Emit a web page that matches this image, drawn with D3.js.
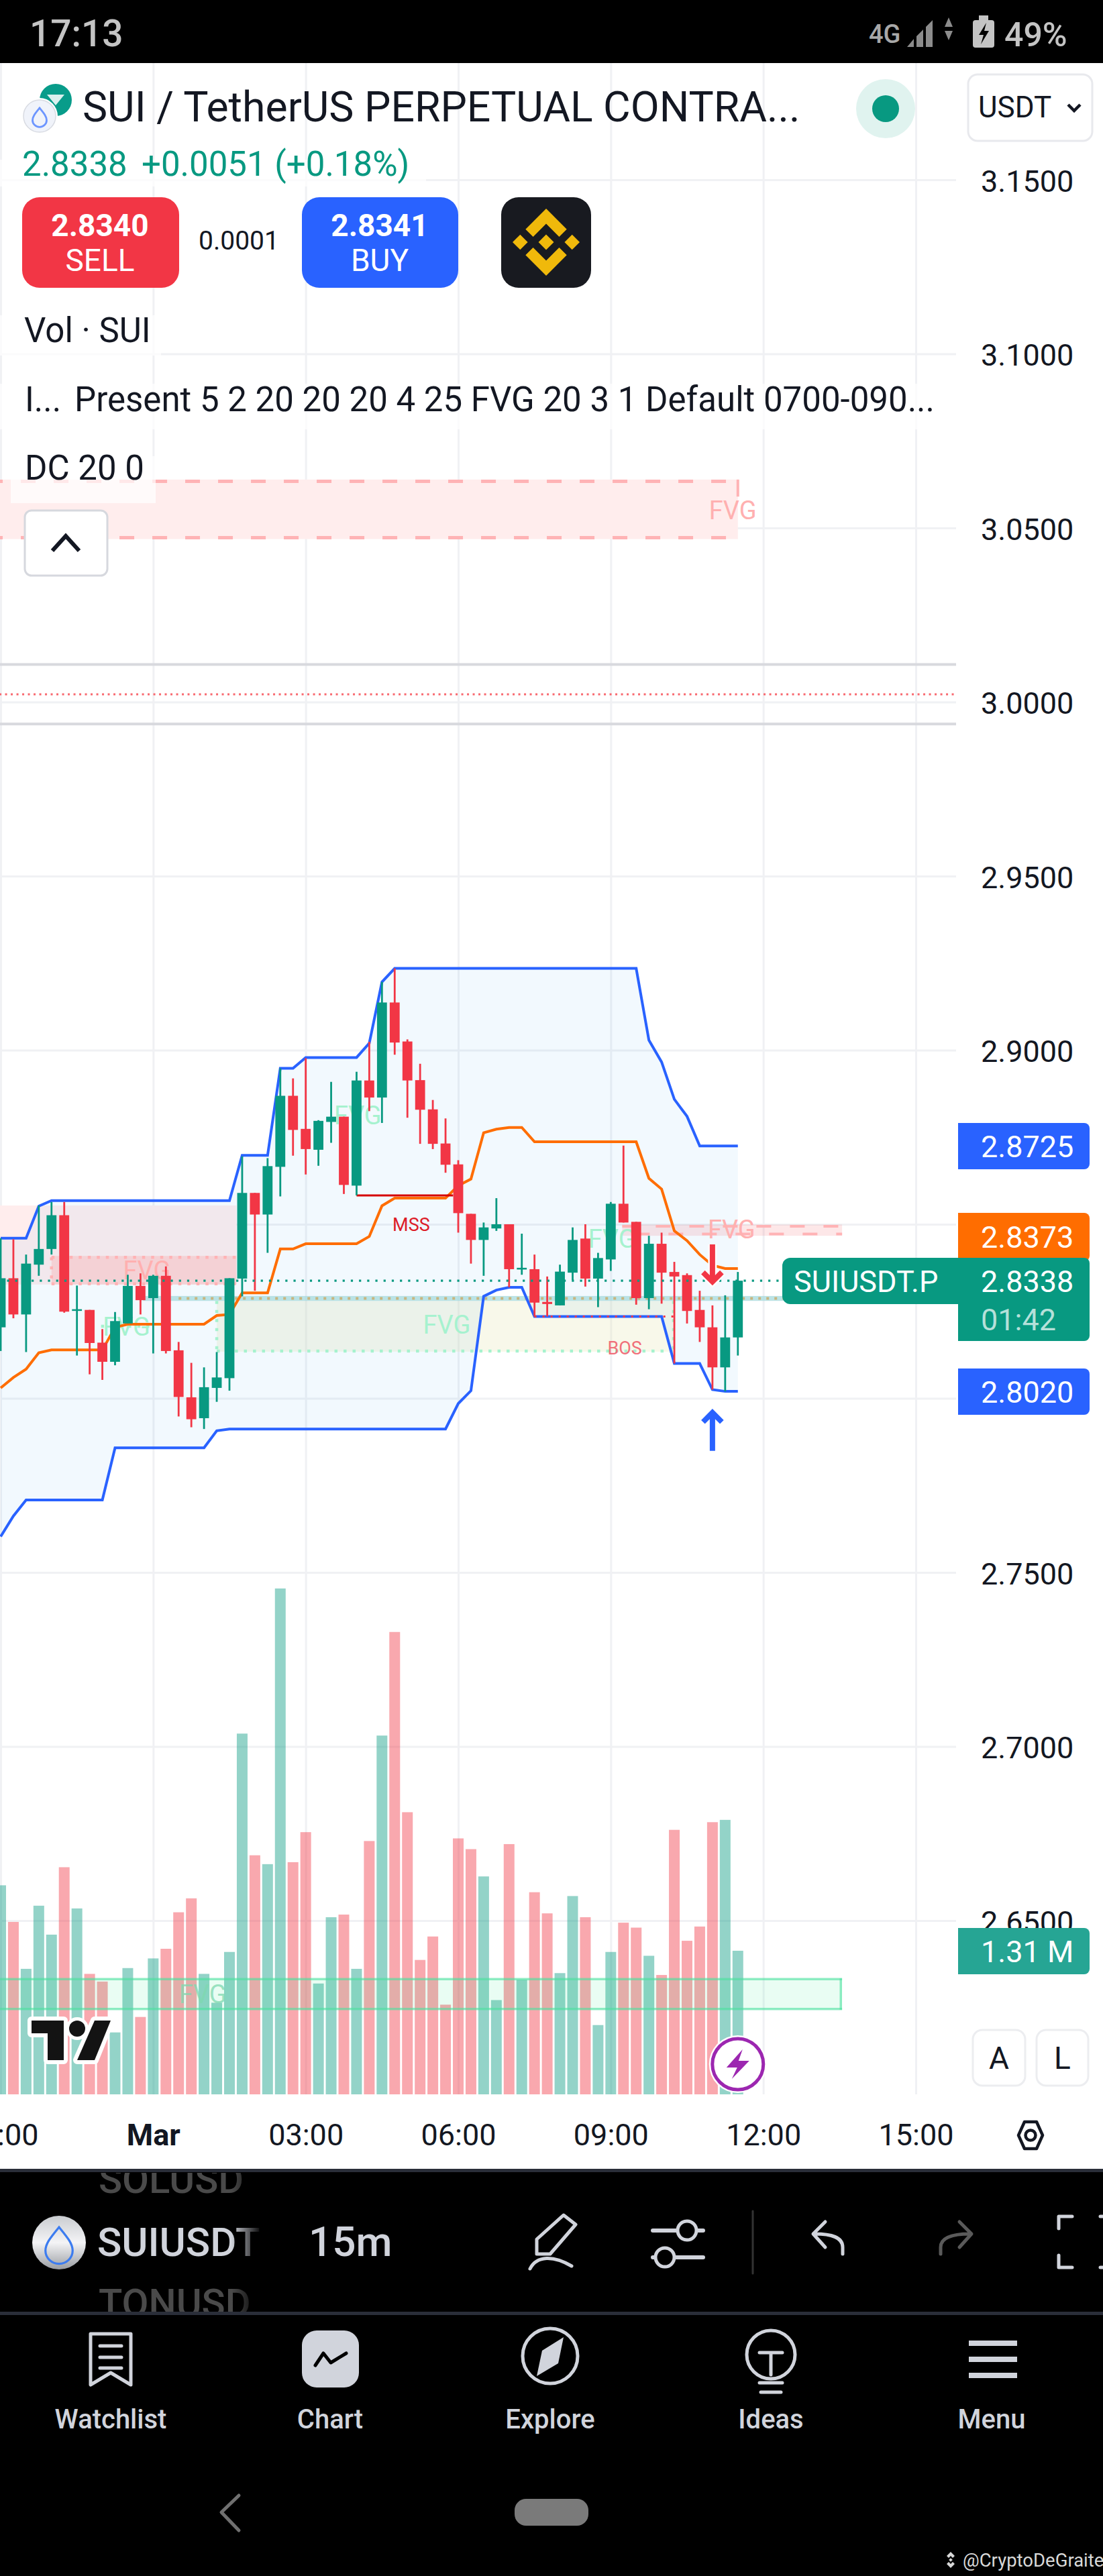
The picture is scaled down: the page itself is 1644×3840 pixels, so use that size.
<!DOCTYPE html>
<html>
<head>
<meta charset="utf-8">
<script src="https://cdn.jsdelivr.net/npm/d3@7"></script>
<style>
html, body { margin: 0; padding: 0; background: #fff; }
svg { display: block; font-family: Roboto, sans-serif; }
</style>
</head>
<body>
<div class="chart-container"></div>
<script>
// bars run every 15 minutes, the first visible one is 21:00 on 28 Feb
const firstBar = Date.UTC(2025, 1, 28, 21, 0);

const opens = [2.8204,2.8345,2.8241,2.8384,2.8429,2.8526,2.8252,2.8254,2.8160,2.8105,2.8215,2.8323,2.8288,2.8352,2.8138,2.8003,2.7943,2.8030,2.8058,2.8344,2.8590,2.8528,2.8665,2.8869,2.8774,2.8714,2.8794,2.8809,2.8611,2.8913,2.8864,2.9137,2.9025,2.8914,2.8830,2.8732,2.8672,2.8530,2.8455,2.8488,2.8500,2.8370,2.8371,2.8277,2.8267,2.8361,2.8459,2.8344,2.8399,2.8559,2.8507,2.8288,2.8444,2.8363,2.8354,2.8254,2.8204,2.8089,2.8175];
const highs = [2.8460,2.8457,2.8413,2.8554,2.8564,2.8564,2.8324,2.8254,2.8199,2.8248,2.8355,2.8359,2.8355,2.8379,2.8162,2.8102,2.8089,2.8133,2.8345,2.8695,2.8590,2.8690,2.8948,2.8919,2.8977,2.8799,2.8909,2.8809,2.8938,2.9024,2.9196,2.9235,2.9031,2.8961,2.8857,2.8804,2.8684,2.8530,2.8505,2.8575,2.8500,2.8473,2.8413,2.8350,2.8384,2.8491,2.8500,2.8418,2.8564,2.8726,2.8507,2.8467,2.8476,2.8392,2.8359,2.8309,2.8267,2.8296,2.8363];
const lows = [2.8136,2.8230,2.8133,2.8352,2.8413,2.8246,2.8123,2.8069,2.8053,2.8095,2.8215,2.8241,2.8129,2.8129,2.7948,2.7917,2.7912,2.7990,2.8022,2.8293,2.8309,2.8418,2.8580,2.8697,2.8643,2.8668,2.8734,2.8587,2.8583,2.8825,2.8791,2.8987,2.8806,2.8731,2.8716,2.8648,2.8476,2.8387,2.8352,2.8481,2.8319,2.8355,2.8235,2.8235,2.8267,2.8340,2.8321,2.8262,2.8366,2.8505,2.8269,2.8256,2.8272,2.8100,2.8215,2.8162,2.8025,2.8020,2.8123];
const closes = [2.8345,2.8241,2.8387,2.8429,2.8526,2.8249,2.8256,2.8159,2.8105,2.8222,2.8323,2.8282,2.8352,2.8136,2.8004,2.7940,2.8032,2.8060,2.8345,2.8590,2.8528,2.8667,2.8869,2.8771,2.8716,2.8797,2.8809,2.8613,2.8913,2.8864,2.9137,2.9022,2.8913,2.8829,2.8731,2.8671,2.8532,2.8455,2.8491,2.8500,2.8371,2.8375,2.8275,2.8271,2.8364,2.8455,2.8344,2.8403,2.8559,2.8505,2.8288,2.8444,2.8361,2.8350,2.8251,2.8204,2.8089,2.8175,2.8338];
const volumes = [1.907,1.573,1.145,1.721,1.457,2.072,1.696,1.099,1.029,0.565,1.152,0.706,1.240,1.328,1.661,1.788,1.099,0.836,1.299,3.291,2.181,2.100,4.615,2.118,2.392,1.011,1.616,1.640,1.145,2.311,3.273,4.218,2.574,1.226,1.440,0.818,2.335,2.237,1.988,0.860,2.283,1.047,1.844,1.651,1.106,1.809,1.616,0.632,1.299,1.566,1.521,1.264,1.089,2.413,1.401,1.531,2.483,2.504,1.31];
// Donchian channel: upper, basis, lower
const dcUpper = [2.8460,2.8460,2.8460,2.8552,2.8568,2.8568,2.8568,2.8568,2.8568,2.8568,2.8568,2.8568,2.8568,2.8568,2.8568,2.8568,2.8568,2.8568,2.8568,2.8698,2.8698,2.8698,2.8948,2.8948,2.8979,2.8979,2.8979,2.8979,2.8979,2.9020,2.9196,2.9235,2.9235,2.9235,2.9235,2.9235,2.9235,2.9235,2.9235,2.9235,2.9235,2.9235,2.9235,2.9235,2.9235,2.9235,2.9235,2.9235,2.9235,2.9235,2.9235,2.9029,2.8966,2.8859,2.8810,2.8725,2.8725,2.8725,2.8725];
const dcBasis = [2.8030,2.8060,2.8084,2.8131,2.8139,2.8139,2.8139,2.8139,2.8139,2.8204,2.8213,2.8213,2.8213,2.8213,2.8213,2.8213,2.8213,2.8238,2.8241,2.8303,2.8303,2.8303,2.8429,2.8429,2.8444,2.8444,2.8444,2.8444,2.8444,2.8465,2.8553,2.8575,2.8575,2.8575,2.8575,2.8575,2.8611,2.8630,2.8763,2.8773,2.8778,2.8778,2.8737,2.8737,2.8737,2.8737,2.8737,2.8737,2.8737,2.8737,2.8737,2.8632,2.8601,2.8481,2.8453,2.8413,2.8382,2.8373,2.8373];
const dcLower = [2.7603,2.7662,2.7708,2.7708,2.7708,2.7708,2.7708,2.7708,2.7708,2.7858,2.7858,2.7858,2.7858,2.7858,2.7858,2.7858,2.7858,2.7907,2.7912,2.7912,2.7912,2.7912,2.7912,2.7912,2.7912,2.7912,2.7912,2.7912,2.7912,2.7912,2.7912,2.7912,2.7912,2.7912,2.7912,2.7912,2.7985,2.8022,2.8293,2.8311,2.8319,2.8319,2.8235,2.8235,2.8235,2.8235,2.8235,2.8235,2.8235,2.8235,2.8235,2.8235,2.8235,2.8100,2.8100,2.8100,2.8025,2.8020,2.8020];

const priceTicks = [3.15,3.10,3.05,3.00,2.95,2.90,2.85,2.80,2.75,2.70,2.65];
const timeTicks = ['21:00','Mar','03:00','06:00','09:00','12:00','15:00'];
const lastPrice = 2.8338;
const navLabels = ['Watchlist','Chart','Explore','Ideas','Menu'];

const width = 1644, height = 3840;
const chartRight = 1425, chartTop = 94, chartBottom = 3122;

const svg = d3.select('.chart-container').append('svg')
    .attr('width', width).attr('height', height).attr('viewBox', `0 0 ${width} ${height}`);

// Scales
const xScale = d3.scaleUtc()
    .domain([new Date(firstBar), new Date(firstBar + 72 * 15 * 60000)])
    .range([1, 1365]);
const yScale = d3.scaleLinear().domain([3.15, 2.65]).range([268, 2863]);
const volScale = d3.scaleLinear().domain([0, 5]).range([chartBottom, chartBottom - 817]);
// i = index into the arrays above
const xBar = i => xScale(new Date(firstBar + i * 15 * 60000));
// k = bars counted from 00:00 on 1 Mar (may be fractional, for box edges)
const xAt = k => xBar(k + 12);

const addText = (g, str, x, y, size, color, opts = {}) => g.append('text')
    .attr('x', x).attr('y', y)
    .attr('font-size', size).attr('fill', color)
    .attr('font-weight', opts.weight || 400)
    .attr('text-anchor', opts.anchor || 'start')
    .attr('opacity', opts.opacity === undefined ? 1 : opts.opacity)
    .text(str);

const defs = svg.append('defs');
defs.append('clipPath').attr('id', 'chart-clip').append('rect')
    .attr('x', 0).attr('y', chartTop).attr('width', chartRight).attr('height', chartBottom - chartTop);
defs.append('clipPath').attr('id', 'toolbar-clip').append('rect')
    .attr('x', 0).attr('y', 3239).attr('width', width).attr('height', 207);
const fade = defs.append('linearGradient').attr('id', 'fade');
fade.append('stop').attr('offset', 0).attr('stop-color', '#000').attr('stop-opacity', 0);
fade.append('stop').attr('offset', 1).attr('stop-color', '#000').attr('stop-opacity', 1);
const silver = defs.append('linearGradient').attr('id', 'silver').attr('x1', 0).attr('y1', 0).attr('x2', 0).attr('y2', 1);
silver.append('stop').attr('offset', 0).attr('stop-color', '#c9ccd0');
silver.append('stop').attr('offset', .5).attr('stop-color', '#f4f4f6');
silver.append('stop').attr('offset', 1).attr('stop-color', '#9a9da2');

svg.append('rect').attr('width', width).attr('height', height).attr('fill', '#fff');

// Axes and grid
const yAxis = d3.axisRight(yScale).tickValues(priceTicks)
    .tickFormat(d3.format('.4f')).tickSizeInner(-chartRight).tickSizeOuter(0).tickPadding(37);
const gy = svg.append('g').attr('class', 'y axis')
    .attr('transform', `translate(${chartRight},0)`).call(yAxis);
const xAxis = d3.axisBottom(xScale)
    .tickValues(timeTicks.map((d, i) => new Date(firstBar + i * 12 * 15 * 60000)))
    .tickFormat((d, i) => timeTicks[i])
    .tickSizeInner(-(chartBottom - chartTop)).tickSizeOuter(0).tickPadding(44);
const gx = svg.append('g').attr('class', 'x axis')
    .attr('transform', `translate(0,${chartBottom})`).call(xAxis);
[gy, gx].forEach(g => {
    g.select('.domain').remove();
    g.selectAll('line').attr('stroke', '#F0F1F4').attr('stroke-width', 3);
    g.selectAll('text').attr('font-size', 45).attr('fill', '#131722').attr('font-family', 'Roboto');
});
gy.selectAll('text').attr('dy', '.38em');
gx.selectAll('text').filter((d, i) => timeTicks[i] === 'Mar').attr('font-weight', 700);

const chart = svg.append('g').attr('clip-path', 'url(#chart-clip)');

// Volume
chart.append('g').selectAll('rect').data(volumes).enter().append('rect')
    .attr('x', (d, i) => xBar(i) - 8).attr('width', 16)
    .attr('y', d => volScale(d)).attr('height', d => chartBottom - volScale(d))
    .attr('fill', (d, i) => closes[i] >= opens[i] ? '#089981' : '#F23645')
    .attr('opacity', .435);

// helpers for the FVG boxes
const zone = (k0, k1, p0, p1, fill, opacity) => chart.append('rect')
    .attr('x', xAt(k0)).attr('width', xAt(k1) - xAt(k0))
    .attr('y', yScale(p0)).attr('height', yScale(p1) - yScale(p0))
    .attr('fill', fill).attr('opacity', opacity);
const hLine = (k0, k1, p, color, w, dash) => chart.append('line')
    .attr('x1', xAt(k0)).attr('x2', xAt(k1))
    .attr('y1', yScale(p)).attr('y2', yScale(p))
    .attr('stroke', color).attr('stroke-width', w).attr('stroke-dasharray', dash || null);
const vLine = (k, p0, p1, color, w, dash) => chart.append('line')
    .attr('x1', xAt(k)).attr('x2', xAt(k))
    .attr('y1', yScale(p0)).attr('y2', yScale(p1))
    .attr('stroke', color).attr('stroke-width', w).attr('stroke-dasharray', dash || null);
const fvgLabel = (k, p, color) => chart.append('text')
    .attr('x', xAt(k)).attr('y', yScale(p)).attr('dy', '.36em')
    .attr('text-anchor', 'middle').attr('font-size', 38).attr('fill', color).text('FVG');

const mint = '#A6F2CF', blush = '#FFB0B0';

// boxes below the channel
zone(-13, 46, 3.0639, 3.0468, '#FFEDED', 1);
hLine(-13, 46, 3.0634, '#FFB3B5', 5, '22 27');
hLine(-13, 46, 3.0472, '#FFB3B5', 5, '22 27');
vLine(46, 3.0639, 3.0590, '#FFB3B5', 4);
zone(-13, 6.55, 2.8554, 2.8327, '#FFEDED', 1);
zone(5, 40.9, 2.8280, 2.8134, '#E6E6B4', .28);
hLine(-13, 90, 3.0108, '#D8D9DE', 4);
hLine(-13, 90, 2.9937, '#D8D9DE', 4);
hLine(-13, 90, 3.0022, '#F8686F', 3, '3 5.5');

// Donchian channel fill
const bars = d3.range(opens.length);
const area = d3.area().x(i => xBar(i)).y0(i => yScale(dcLower[i])).y1(i => yScale(dcUpper[i]));
chart.append('path').attr('d', area(bars)).attr('fill', '#2196F3').attr('opacity', .06);

// boxes over the channel
zone(-8, 6.55, 2.8409, 2.8327, '#FF7878', .2);
hLine(-8, 6.55, 2.8405, '#FFB3B5', 4.5, '4.5 9');
hLine(-8, 6.55, 2.8329, '#FFB3B5', 4.5, '4.5 9');
vLine(-8, 2.8405, 2.8329, '#FFB3B5', 4.5, '4.5 9');
zone(36.9, 54.2, 2.8499, 2.8467, '#F23645', .12);
hLine(36.9, 54.2, 2.8494, '#FFB3B5', 4, '22 28');
hLine(37.9, 54.2, 2.8472, '#FFB3B5', 4, '22 28');
zone(-0.8, 49.6, 2.8294, 2.8280, '#A6DADC', .75);
hLine(2, 49.6, 2.8287, '#C7B57F', 4, '4 8');
hLine(5, 40.9, 2.8136, mint, 4.5, '4.5 9');
vLine(5, 2.8280, 2.8136, mint, 4.5, '4.5 9');
vLine(40.9, 2.8280, 2.8136, mint, 3, '4.5 9');
hLine(-4.1, -0.3, 2.8207, mint, 4.5, '4.5 9');

fvgLabel(-0.5, 2.8369, blush);
fvgLabel(-2.1, 2.8207, mint);
fvgLabel(16.1, 2.8814, mint);
fvgLabel(23.1, 2.8213, mint);
fvgLabel(36.1, 2.8459, mint);
fvgLabel(45.6, 3.0552, blush);
fvgLabel(45.5, 2.8485, blush);

// Donchian lines
const line = values => d3.line().x(i => xBar(i)).y(i => yScale(values[i]))(bars);
chart.append('path').attr('d', line(dcUpper)).attr('fill', 'none').attr('stroke', '#2962FF').attr('stroke-width', 4);
chart.append('path').attr('d', line(dcLower)).attr('fill', 'none').attr('stroke', '#2962FF').attr('stroke-width', 4);
chart.append('path').attr('d', line(dcBasis)).attr('fill', 'none').attr('stroke', '#FF6D00').attr('stroke-width', 4);

// MSS and BOS
hLine(16, 23.6, 2.8583, '#D50000', 3);
addText(chart, 'MSS', xAt(20.3), yScale(2.8500) + 10, 27, '#DD1C28', { anchor: 'middle' });
hLine(30, 41.2, 2.8235, '#F23645', 3, '3 9');
addText(chart, 'BOS', xAt(37.1), yScale(2.8145) + 10, 27, '#F0707A', { anchor: 'middle' });

// Candles
const candles = chart.append('g');
bars.forEach(i => {
    const color = closes[i] >= opens[i] ? '#089981' : '#F23645';
    candles.append('line')
        .attr('x1', xBar(i)).attr('x2', xBar(i))
        .attr('y1', yScale(highs[i])).attr('y2', yScale(lows[i]))
        .attr('stroke', color).attr('stroke-width', 2.8);
    const top = yScale(Math.max(opens[i], closes[i]));
    const bot = yScale(Math.min(opens[i], closes[i]));
    candles.append('rect')
        .attr('x', xBar(i) - 7.4).attr('width', 14.8)
        .attr('y', top).attr('height', Math.max(bot - top, 2.5))
        .attr('fill', color);
});

// Last price line
hLine(-11.5, 49.6, lastPrice, '#089981', 3.2, '3.2 9');

// Signal arrows on bar 44
function arrow(k, pTail, pTip, color) {
    const x = xAt(k), yTail = yScale(pTail), yTip = yScale(pTip);
    const dir = yTip > yTail ? -1 : 1;
    const d = `M${x},${yTail}L${x},${yTip}M${x - 14},${yTip + dir * 15}L${x},${yTip + dir * 1}L${x + 14},${yTip + dir * 15}`;
    chart.append('path').attr('d', d).attr('fill', 'none').attr('stroke', '#fff').attr('stroke-width', 13);
    chart.append('path').attr('d', d).attr('fill', 'none').attr('stroke', color).attr('stroke-width', 8);
}
arrow(44, 2.8442, 2.8333, '#F23645');
arrow(44, 2.7849, 2.7961, '#2962FF');

// Volume zone sits on top of the bars
zone(-13, 54.2, 2.6334, 2.6244, '#00E676', .085);
hLine(-13, 54.2, 2.6332, '#4DE2A0', 3.5).attr('opacity', .6);
hLine(-13, 54.2, 2.6246, '#4DE2A0', 3.5).attr('opacity', .6);
vLine(54.1, 2.6334, 2.6244, '#4DE2A0', 3.5).attr('opacity', .6);
fvgLabel(3.9, 2.6290, '#7FD9B0').attr('opacity', .75);

// TradingView mark
const tv = svg.append('g');
const tvPaths = ['M47,3012H95V3071H71V3031H47Z', 'M141,3012H165L141,3071H115Z'];
tvPaths.forEach(d => tv.append('path').attr('d', d).attr('fill', '#fff').attr('stroke', '#fff').attr('stroke-width', 12).attr('stroke-linejoin', 'round'));
tv.append('circle').attr('cx', 115).attr('cy', 3024).attr('r', 12).attr('fill', '#fff').attr('stroke', '#fff').attr('stroke-width', 10);
tvPaths.forEach(d => tv.append('path').attr('d', d).attr('fill', '#131313'));
tv.append('circle').attr('cx', 115).attr('cy', 3024).attr('r', 12).attr('fill', '#131313');

// Lightning badge
const bolt = svg.append('g').attr('transform', `translate(${xAt(46)},3077)`);
bolt.append('circle').attr('r', 43).attr('fill', '#fff');
bolt.append('circle').attr('r', 38).attr('fill', '#fff').attr('stroke', '#9C27B0').attr('stroke-width', 5);
bolt.append('path').attr('d', 'M7,-22 L-17,5 L-1,5 L-9,22 L17,-5 L1,-5 Z').attr('fill', '#9C27B0');

// Price labels (the orange one is pushed up by the last price box)
function priceLabel(str, y0, y1, fill, textColor) {
    const g = svg.append('g');
    g.append('path').attr('d', `M1428,${y0}H1616a8,8 0 0 1 8,8V${y1 - 8}a8,8 0 0 1 -8,8H1428Z`).attr('fill', fill);
    addText(g, str, 1462, (y0 + y1) / 2 + 16, 45, textColor);
}
priceLabel('2.8725', 1674, 1743, '#2962FF', '#fff');
priceLabel('2.8373', 1808, 1880, '#FF6D00', '#fff');
priceLabel('2.8020', 2040, 2109, '#2962FF', '#fff');
// last price box is taller, it also holds the countdown
const lastG = svg.append('g');
lastG.append('path').attr('d', 'M1428,1875H1616a8,8 0 0 1 8,8V1991a8,8 0 0 1 -8,8H1428Z').attr('fill', '#089981');
addText(lastG, '2.8338', 1462, 1926, 45, '#fff');
addText(lastG, '01:42', 1462, 1983, 45, '#B5E0D9');
lastG.append('path').attr('d', 'M1428,1875V1944H1178a12,12 0 0 1 -12,-12V1887a12,12 0 0 1 12,-12Z').attr('fill', '#089981');
addText(lastG, 'SUIUSDT.P', 1183, 1926, 45, '#fff');
priceLabel('1.31 M', 2874, 2943, '#26A594', '#fff');

// A and L buttons
[['A', 1450, 78], ['L', 1545, 77]].forEach(d => {
    svg.append('rect').attr('x', d[1]).attr('y', 3026).attr('width', d[2]).attr('height', 83).attr('rx', 14)
        .attr('fill', '#fff').attr('stroke', '#ECEDF0').attr('stroke-width', 3);
    addText(svg, d[0], d[1] + d[2] / 2, 3084, 46, '#131722', { anchor: 'middle' });
});
svg.append('path').attr('d', 'M1518,3183L1527,3163H1545L1554,3183L1545,3203H1527Z')
    .attr('fill', 'none').attr('stroke', '#131722').attr('stroke-width', 4.5).attr('stroke-linejoin', 'round');
svg.append('circle').attr('cx', 1536).attr('cy', 3183).attr('r', 7.5).attr('fill', 'none').attr('stroke', '#131722').attr('stroke-width', 4.5);

// Legend rows wash out the grid behind them
[[0, 238, 635, 40], [0, 470, 240, 60], [0, 572, 1400, 68], [16, 680, 216, 70]].forEach(d => {
    svg.append('rect').attr('x', d[0]).attr('y', d[1]).attr('width', d[2]).attr('height', d[3]).attr('fill', '#fff').attr('opacity', .7);
});

// Header
const dropPath = 'M0,-1C.45,-.45 .75,-.1 .75,.3A.75,.72 0 1 1 -.75,.3C-.75,-.1 -.45,-.45 0,-1Z';
svg.append('circle').attr('cx', 83).attr('cy', 149).attr('r', 24).attr('fill', '#089C8A');
svg.append('path').attr('d', 'M70,141H96L83,157Z').attr('fill', '#fff').attr('opacity', .85);
svg.append('circle').attr('cx', 59).attr('cy', 173).attr('r', 27).attr('fill', '#fff');
svg.append('circle').attr('cx', 59).attr('cy', 173).attr('r', 24).attr('fill', '#F0F3FA').attr('stroke', '#D8DBE2').attr('stroke-width', 1.5);
svg.append('path').attr('transform', 'translate(59,175) scale(14)').attr('d', dropPath)
    .attr('fill', 'none').attr('stroke', '#6C95FF').attr('stroke-width', .2);
addText(svg, 'SUI / TetherUS PERPETUAL CONTRA...', 123, 181, 62.5, '#131722');
svg.append('circle').attr('cx', 1320).attr('cy', 162).attr('r', 44).attr('fill', '#E0F3EF');
svg.append('circle').attr('cx', 1320).attr('cy', 162).attr('r', 20).attr('fill', '#089981');
svg.append('rect').attr('x', 1443).attr('y', 111).attr('width', 185).attr('height', 99).attr('rx', 14)
    .attr('fill', '#fff').attr('stroke', '#E8E9ED').attr('stroke-width', 3);
addText(svg, 'USDT', 1458, 175, 44, '#131722');
svg.append('path').attr('d', 'M1592,156L1601,165L1610,156').attr('fill', 'none').attr('stroke', '#131722').attr('stroke-width', 4.5);

addText(svg, '2.8338', 33, 262, 51, '#089981');
addText(svg, '+0.0051 (+0.18%)', 211, 262, 51, '#089981');

// Sell and buy
svg.append('rect').attr('x', 33).attr('y', 294).attr('width', 234).attr('height', 135).attr('rx', 26).attr('fill', '#F23645');
addText(svg, '2.8340', 149, 352, 46, '#fff', { anchor: 'middle', weight: 700 });
addText(svg, 'SELL', 149, 404, 46, '#fff', { anchor: 'middle' });
addText(svg, '0.0001', 356, 372, 39, '#131722', { anchor: 'middle' });
svg.append('rect').attr('x', 450).attr('y', 294).attr('width', 233).attr('height', 135).attr('rx', 26).attr('fill', '#2962FF');
addText(svg, '2.8341', 566, 352, 46, '#fff', { anchor: 'middle', weight: 700 });
addText(svg, 'BUY', 566, 404, 46, '#fff', { anchor: 'middle' });
svg.append('rect').attr('x', 747).attr('y', 294).attr('width', 134).attr('height', 135).attr('rx', 26).attr('fill', '#181A20');
const bnb = svg.append('g').attr('transform', 'translate(764,311) scale(.79)').attr('fill', '#F0B90B');
['M38.73 53.2 63.31 28.63 87.9 53.22l14.3-14.3L63.31 0 24.43 38.88z', 'M0 63.31l14.3-14.3 14.31 14.3-14.31 14.3z',
 'M38.73 73.42 63.31 97.99 87.9 73.4l14.31 14.29-38.9 38.92L24.42 87.72z', 'M98 63.31l14.3-14.3 14.31 14.3-14.31 14.3z',
 'M77.83 63.3 63.31 48.78 48.8 63.28l14.51 14.52z'].forEach(d => bnb.append('path').attr('d', d));

addText(svg, 'Vol · SUI', 36, 510, 51, '#131722');
addText(svg, 'I...', 37, 613, 51, '#131722');
addText(svg, 'Present 5 2 20 20 20 4 25 FVG 20 3 1 Default 0700-090...', 111, 613, 51, '#131722');
addText(svg, 'DC 20 0', 37, 715, 51, '#131722');
svg.append('rect').attr('x', 37).attr('y', 761).attr('width', 123).attr('height', 97).attr('rx', 10)
    .attr('fill', '#fff').attr('stroke', '#D6D8DE').attr('stroke-width', 3);
svg.append('path').attr('d', 'M78,821L98,799L118,821').attr('fill', 'none').attr('stroke', '#131722').attr('stroke-width', 6);

// Status bar
svg.append('rect').attr('width', width).attr('height', 94).attr('fill', '#000');
addText(svg, '17:13', 44, 69, 55, '#C4C4C4', { weight: 500 });
addText(svg, '4G', 1295, 64, 38, '#A8A8A8', { weight: 500 });
svg.append('path').attr('d', 'M1352,70H1362V58ZM1366,70H1376V44L1366,54ZM1380,70H1390V30L1380,40Z').attr('fill', '#8C8C8C');
svg.append('path').attr('d', 'M1408,40L1414,26L1420,40ZM1408,46H1420L1414,60Z').attr('fill', '#8C8C8C');
svg.append('rect').attr('x', 1450).attr('y', 30).attr('width', 32).attr('height', 41).attr('rx', 4).attr('fill', '#C4C4C4');
svg.append('rect').attr('x', 1459).attr('y', 23).attr('width', 14).attr('height', 8).attr('fill', '#C4C4C4');
svg.append('path').attr('d', 'M1470,34L1459,52H1466L1462,66L1474,46H1467Z').attr('fill', '#000');
addText(svg, '49%', 1497, 69, 50, '#C4C4C4', { weight: 500 });

// Bottom toolbar
svg.append('rect').attr('y', 3235).attr('width', width).attr('height', height - 3235).attr('fill', '#000');
svg.append('rect').attr('y', 3233).attr('width', width).attr('height', 5).attr('fill', '#2A2E39');
svg.append('rect').attr('y', 3446).attr('width', width).attr('height', 5).attr('fill', '#2A2E39');
const toolbar = svg.append('g').attr('clip-path', 'url(#toolbar-clip)');
addText(toolbar, 'SOLUSD', 147, 3269, 58, '#4A4A4A', { weight: 500 });
addText(toolbar, 'TONUSD', 147, 3453, 58, '#4A4A4A', { weight: 500 });
addText(toolbar, 'SUIUSDT', 145, 3363, 60, '#D1D4DC', { weight: 500 });
toolbar.append('rect').attr('x', 345).attr('y', 3239).attr('width', 45).attr('height', 207).attr('fill', 'url(#fade)');
toolbar.append('rect').attr('x', 390).attr('y', 3239).attr('width', 50).attr('height', 207).attr('fill', '#000');
addText(svg, '15m', 460, 3363, 62, '#D1D4DC', { weight: 500 });
svg.append('circle').attr('cx', 88).attr('cy', 3343).attr('r', 40).attr('fill', 'url(#silver)');
svg.append('path').attr('transform', 'translate(88,3347) scale(27)').attr('d', dropPath)
    .attr('fill', 'none').attr('stroke', '#3C7CF0').attr('stroke-width', .12);

const stroke = (d, color = '#D1D4DC', w = 5) => svg.append('path').attr('d', d)
    .attr('fill', 'none').attr('stroke', color).attr('stroke-width', w).attr('stroke-linecap', 'round').attr('stroke-linejoin', 'round');
stroke('M800,3360L800,3338L840,3302L858,3316L820,3360Z');
stroke('M790,3382C800,3362 825,3362 852,3378');
stroke('M973,3325H1048M973,3365H1048', '#D1D4DC', 6);
svg.append('circle').attr('cx', 1024).attr('cy', 3325).attr('r', 14).attr('fill', '#000').attr('stroke', '#D1D4DC').attr('stroke-width', 5);
svg.append('circle').attr('cx', 991).attr('cy', 3365).attr('r', 14).attr('fill', '#000').attr('stroke', '#D1D4DC').attr('stroke-width', 5);
stroke('M1122,3296V3389', '#333', 3);
stroke('M1256,3360V3350C1256,3335 1240,3330 1214,3330M1230,3312L1212,3330L1230,3350');
stroke('M1402,3360V3350C1402,3335 1420,3330 1446,3330M1430,3312L1448,3330L1430,3350', '#5A5A5A');
stroke('M1598,3304H1578V3322M1578,3362V3380H1598');
stroke('M1640,3304H1644M1640,3380H1644');

// Navigation
const navX = [165, 492, 820, 1149, 1478];
navLabels.forEach((d, i) => addText(svg, d, navX[i], 3620, 40, '#D1D4DC', { anchor: 'middle', weight: 500 }));
stroke('M135,3555V3479H195V3555L165,3537Z');
stroke('M149,3497H181M149,3514H181M149,3530H181');
svg.append('rect').attr('x', 450).attr('y', 3474).attr('width', 85).attr('height', 85).attr('rx', 22).attr('fill', '#D1D4DC');
stroke('M470,3526L482,3508L493,3522L516,3508', '#000', 5);
svg.append('circle').attr('cx', 820).attr('cy', 3512).attr('r', 41).attr('fill', 'none').attr('stroke', '#D1D4DC').attr('stroke-width', 5);
svg.append('path').attr('d', 'M840,3484L832,3523L800,3542L808,3504Z').attr('fill', '#D1D4DC');
svg.append('circle').attr('cx', 1149).attr('cy', 3510).attr('r', 36).attr('fill', 'none').attr('stroke', '#D1D4DC').attr('stroke-width', 5);
stroke('M1132,3507H1166M1149,3507V3540M1132,3552H1166M1134,3566H1164');
[3489, 3513, 3537].forEach(y => svg.append('rect').attr('x', 1444).attr('y', y).attr('width', 72).attr('height', 8).attr('fill', '#D1D4DC'));

// Android navigation and watermark
stroke('M356,3720L330,3745L356,3772', '#707070', 5);
svg.append('rect').attr('x', 767).attr('y', 3725).attr('width', 110).attr('height', 40).attr('rx', 17).attr('fill', '#7A7A7A');
svg.append('g').attr('transform', 'translate(1417,3816) scale(.2)').attr('fill', '#D8D8D8')
    .selectAll('path').data(['M0,-60L30,-30L15,-15L0,-30L-15,-15L-30,-30Z', 'M0,60L30,30L15,15L0,30L-15,15L-30,30Z', 'M0,-14L14,0L0,14L-14,0Z'])
    .enter().append('path').attr('d', d => d);
addText(svg, '@CryptoDeGraite', 1435, 3826, 27.5, '#D8D8D8');
</script>
</body>
</html>
